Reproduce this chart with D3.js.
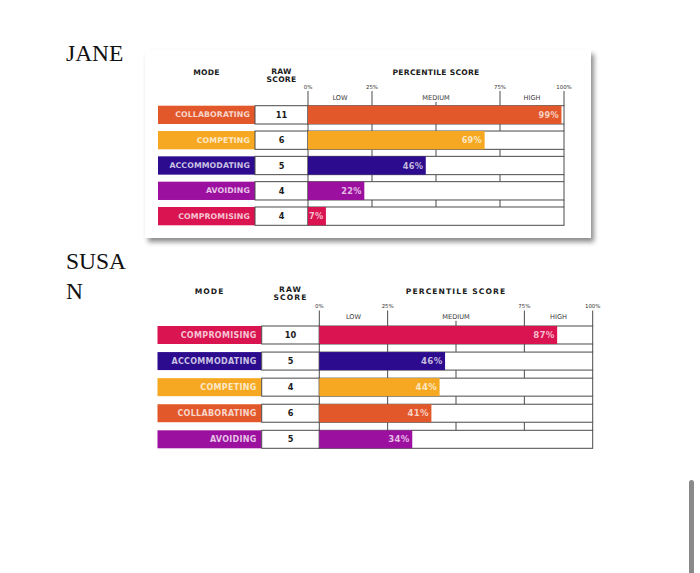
<!DOCTYPE html>
<html>
<head>
<meta charset="utf-8">
<script src="https://cdn.jsdelivr.net/npm/d3@7"></script>
<style>
  html, body { margin: 0; padding: 0; background: #fff; overflow: hidden; }
</style>
</head>
<body>
<div id="chart"></div>
<script>
// --- data ---
var janeModes = ["COLLABORATING", "COMPETING", "ACCOMMODATING", "AVOIDING", "COMPROMISING"];
var janeRaw = [11, 6, 5, 4, 4];
var janePct = [99, 69, 46, 22, 7];

var susanModes = ["COMPROMISING", "ACCOMMODATING", "COMPETING", "COLLABORATING", "AVOIDING"];
var susanRaw = [10, 5, 4, 6, 5];
var susanPct = [87, 46, 44, 41, 34];

var tickValues = [0, 25, 75, 100];
var tickLabels = ["0%", "25%", "75%", "100%"];
var bandNames = ["LOW", "MEDIUM", "HIGH"];
var bandCenters = [12.5, 50, 87.5];

var modeColors = {
    COLLABORATING: "#e2582a",
    COMPETING: "#f6a822",
    ACCOMMODATING: "#2c0b8e",
    AVOIDING: "#9c109f",
    COMPROMISING: "#da1450"
};

var svg = d3.select("#chart").append("svg")
    .attr("width", 700)
    .attr("height", 573);

var defs = svg.append("defs");
var shadow = defs.append("filter").attr("id", "cardShadow")
    .attr("x", "-10%").attr("y", "-10%").attr("width", "125%").attr("height", "130%");
shadow.append("feDropShadow")
    .attr("dx", 3).attr("dy", 4).attr("stdDeviation", 2.5)
    .attr("flood-color", "#000").attr("flood-opacity", 0.45);

// names on the left, serif like the page text
var serif = "'Liberation Serif', 'DejaVu Serif', serif";
svg.append("text").attr("x", 66).attr("y", 61)
    .style("font-family", serif).style("font-size", "23.5px").attr("fill", "#111").text("JANE");
svg.append("text").attr("x", 66).attr("y", 269)
    .style("font-family", serif).style("font-size", "23.5px").attr("fill", "#111").text("SUSA");
svg.append("text").attr("x", 66).attr("y", 299)
    .style("font-family", serif).style("font-size", "23.5px").attr("fill", "#111").text("N");

// white card with shadow behind Jane's chart
svg.append("rect")
    .attr("x", 145).attr("y", 50).attr("width", 446).attr("height", 188)
    .attr("fill", "#fff").attr("filter", "url(#cardShadow)");

var font = "'DejaVu Sans', Verdana, sans-serif";

function drawChart (modes, raw, pct, o) {
    var g = svg.append("g");
    var x = d3.scaleLinear().domain([0, 100]).range([o.rawX1, o.pctX1]);
    var y = d3.scaleBand().domain(modes).range([o.rowTop, o.rowBottom]).paddingInner(o.pad);
    var lineColor = "#4a4a4a";

    // header
    function head (tx, ty, label) {
        g.append("text").attr("x", tx).attr("y", ty)
            .attr("text-anchor", "middle").attr("dominant-baseline", "middle")
            .style("font-family", font).style("font-weight", "bold")
            .style("font-size", o.headSize + "px").style("letter-spacing", o.headSpacing + "px")
            .attr("fill", "#1a1a1a").text(label);
    }
    head((o.modeX0 + o.modeX1) / 2, o.titleY, "MODE");
    head((o.modeX1 + o.rawX1) / 2, o.titleY - 1.8, "RAW");
    head((o.modeX1 + o.rawX1) / 2, o.titleY + 6.2, "SCORE");
    head(x(50), o.titleY, "PERCENTILE SCORE");

    // percentile tick labels and lines down to the first row
    g.selectAll(".tickLabel").data(tickValues).enter().append("text")
        .attr("x", function (d) { return x(d); })
        .attr("y", o.tickY)
        .attr("text-anchor", "middle").attr("dominant-baseline", "middle")
        .style("font-family", font).style("font-size", "5.4px")
        .attr("fill", "#333")
        .text(function (d, i) { return tickLabels[i]; });
    g.selectAll(".tickLine").data(tickValues).enter().append("line")
        .attr("x1", function (d) { return x(d); }).attr("x2", function (d) { return x(d); })
        .attr("y1", o.tickY + 3.5).attr("y2", o.rowTop)
        .attr("stroke", lineColor).attr("stroke-width", 1);
    g.append("line")
        .attr("x1", x(50)).attr("x2", x(50))
        .attr("y1", o.bandY + 3.5).attr("y2", o.rowTop)
        .attr("stroke", lineColor).attr("stroke-width", 1);
    g.selectAll(".bandLabel").data(bandNames).enter().append("text")
        .attr("x", function (d, i) { return x(bandCenters[i]); })
        .attr("y", o.bandY)
        .attr("text-anchor", "middle").attr("dominant-baseline", "middle")
        .style("font-family", font).style("font-size", "6.6px")
        .attr("fill", "#3a3a3a")
        .text(function (d) { return d; });

    // ticks in the gaps between rows
    for (var i = 0; i < modes.length - 1; i++) {
        var gapTop = y(modes[i]) + y.bandwidth();
        var gapBottom = y(modes[i + 1]);
        g.selectAll(".gap" + i).data([0, 25, 50, 75, 100]).enter().append("line")
            .attr("x1", function (d) { return x(d); }).attr("x2", function (d) { return x(d); })
            .attr("y1", gapTop).attr("y2", gapBottom)
            .attr("stroke", lineColor).attr("stroke-width", 1);
    }

    var rows = g.selectAll(".row").data(modes).enter().append("g")
        .attr("class", "row");

    // mode label block
    rows.append("rect")
        .attr("x", o.modeX0).attr("y", function (d) { return y(d); })
        .attr("width", o.modeX1 - o.modeX0).attr("height", y.bandwidth())
        .attr("fill", function (d) { return modeColors[d]; });
    rows.append("text")
        .attr("x", o.modeX1 - 5).attr("y", function (d) { return y(d) + y.bandwidth() / 2 + 0.5; })
        .attr("text-anchor", "end").attr("dominant-baseline", "middle")
        .style("font-family", font).style("font-weight", "bold")
        .style("font-size", o.labelSize + "px").style("letter-spacing", o.labelSpacing + "px")
        .attr("fill", function (d) { return d3.interpolateRgb(modeColors[d], "#fff")(0.75); })
        .text(function (d) { return d; });

    // raw score box
    rows.append("rect")
        .attr("x", o.modeX1).attr("y", function (d) { return y(d); })
        .attr("width", o.rawX1 - o.modeX1).attr("height", y.bandwidth())
        .attr("fill", "#fff").attr("stroke", lineColor).attr("stroke-width", 1);
    rows.append("text")
        .attr("x", (o.modeX1 + o.rawX1) / 2).attr("y", function (d) { return y(d) + y.bandwidth() / 2 + 0.5; })
        .attr("text-anchor", "middle").attr("dominant-baseline", "middle")
        .style("font-family", font).style("font-weight", "bold")
        .style("font-size", "8.2px").attr("fill", "#1a1a1a")
        .text(function (d, i) { return raw[i]; });

    // percentile outline + bar
    rows.append("rect")
        .attr("x", x(0)).attr("y", function (d) { return y(d); })
        .attr("width", x(100) - x(0)).attr("height", y.bandwidth())
        .attr("fill", "#fff").attr("stroke", lineColor).attr("stroke-width", 1);
    rows.append("rect")
        .attr("x", x(0)).attr("y", function (d) { return y(d); })
        .attr("width", function (d, i) { return x(pct[i]) - x(0); })
        .attr("height", y.bandwidth())
        .attr("fill", function (d) { return modeColors[d]; });
    rows.append("text")
        .attr("x", function (d, i) { return x(pct[i]) - 2.5; })
        .attr("y", function (d) { return y(d) + y.bandwidth() / 2 + 0.5; })
        .attr("text-anchor", "end").attr("dominant-baseline", "middle")
        .style("font-family", font).style("font-weight", "bold")
        .style("font-size", o.pctSize + "px").style("letter-spacing", "0.3px")
        .attr("fill", function (d) { return d3.interpolateRgb(modeColors[d], "#fff")(0.72); })
        .text(function (d, i) { return pct[i] + "%"; });
}

drawChart(janeModes, janeRaw, janePct, {
    modeX0: 158, modeX1: 255, rawX1: 308, pctX1: 564,
    rowTop: 105.7, rowBottom: 225.3, pad: 0.277,
    titleY: 73.3, tickY: 87.5, bandY: 98.3,
    headSize: 7.6, headSpacing: 0.25, labelSize: 7.8, labelSpacing: 0.1, pctSize: 8.2
});

drawChart(susanModes, susanRaw, susanPct, {
    modeX0: 157.5, modeX1: 261.7, rawX1: 319.3, pctX1: 592.7,
    rowTop: 326, rowBottom: 448.3, pad: 0.31,
    titleY: 291.7, tickY: 307, bandY: 317.3,
    headSize: 7.6, headSpacing: 1.1, labelSize: 8, labelSpacing: 0.3, pctSize: 8.6
});

// scrollbar thumb at the right edge of the page
svg.append("rect")
    .attr("x", 689).attr("y", 480).attr("width", 5).attr("height", 95)
    .attr("rx", 2.5).attr("fill", "#8a8a8a");
</script>
</body>
</html>
